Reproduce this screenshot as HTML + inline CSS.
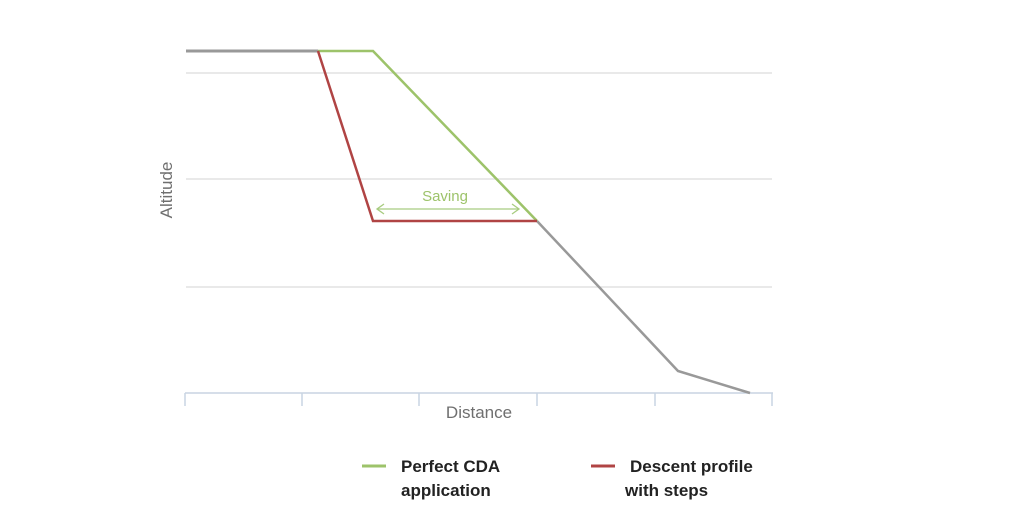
<!DOCTYPE html>
<html><head><style>
body{margin:0;background:#fff;width:1024px;height:512px;overflow:hidden}
</style></head><body>
<svg width="1024" height="512" xmlns="http://www.w3.org/2000/svg" style="position:absolute;left:0;top:0">
<g stroke="#dcdcdc" stroke-width="1.3">
<line x1="186" y1="73" x2="772" y2="73"/>
<line x1="186" y1="179" x2="772" y2="179"/>
<line x1="186" y1="287" x2="772" y2="287"/>
</g>
<g stroke="#c8d4e2" stroke-width="1.5">
<line x1="185" y1="393" x2="773" y2="393"/>
<line x1="185" y1="393" x2="185" y2="406"/>
<line x1="302" y1="393" x2="302" y2="406"/>
<line x1="419" y1="393" x2="419" y2="406"/>
<line x1="537" y1="393" x2="537" y2="406"/>
<line x1="655" y1="393" x2="655" y2="406"/>
<line x1="772" y1="393" x2="772" y2="406"/>
</g>
<polyline points="186,51 318,51" fill="none" stroke="#999" stroke-width="3"/>
<polyline points="537,221 678,371 750,393" fill="none" stroke="#999" stroke-width="2.5"/>
<polyline points="318,51 373,51 537,221" fill="none" stroke="#9dc36a" stroke-width="2.5"/>
<polyline points="318,51 373,221 537,221" fill="none" stroke="#b04444" stroke-width="2.5"/>
<g stroke="#a8cc80" stroke-width="1.3" fill="none">
<line x1="377" y1="209" x2="519" y2="209"/>
<polyline points="384,204 377,209 384,214"/>
<polyline points="512,204 519,209 512,214"/>
</g>
<text x="445" y="201" text-anchor="middle" font-family="Liberation Sans, sans-serif" font-size="15" fill="#9dc36a">Saving</text>
<text x="479" y="418" text-anchor="middle" font-family="Liberation Sans, sans-serif" font-size="17" fill="#6f6f6f">Distance</text>
<text transform="translate(172,190) rotate(-90)" text-anchor="middle" font-family="Liberation Sans, sans-serif" font-size="17" fill="#6f6f6f">Altitude</text>
<line x1="362" y1="466" x2="386" y2="466" stroke="#9dc36a" stroke-width="3"/>
<line x1="591" y1="466" x2="615" y2="466" stroke="#b04444" stroke-width="3"/>
<g font-family="Liberation Sans, sans-serif" font-size="17" font-weight="bold" fill="#222">
<text x="401" y="472">Perfect CDA</text>
<text x="401" y="496">application</text>
<text x="630" y="472">Descent profile</text>
<text x="625" y="496">with steps</text>
</g>
</svg>
</body></html>
